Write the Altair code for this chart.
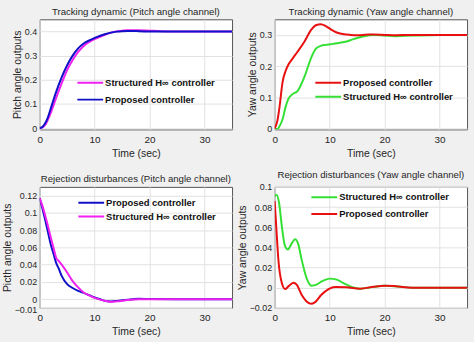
import altair as alt
import pandas as pd

# ---------------- data ----------------
S = "Structured H∞ controller"
P = "Proposed controller"

# Tracking dynamic, pitch
t_pt = [0, 0.5, 1, 1.5, 2, 3, 4, 5, 6, 7, 8, 9, 10, 11, 12, 13, 14, 15, 16, 17, 18, 20, 22, 25, 30, 35]
pt_proposed = [0, 0.005, 0.02, 0.045, 0.08, 0.15, 0.21, 0.26, 0.30, 0.33, 0.35, 0.363, 0.373, 0.382,
               0.389, 0.395, 0.399, 0.401, 0.402, 0.402, 0.401, 0.400, 0.400, 0.400, 0.400, 0.400]
pt_structured = [0, 0.003, 0.013, 0.035, 0.062, 0.125, 0.185, 0.24, 0.282, 0.315, 0.34, 0.356, 0.368, 0.378,
                 0.387, 0.395, 0.400, 0.403, 0.405, 0.405, 0.405, 0.403, 0.401, 0.400, 0.400, 0.400]

# Tracking dynamic, yaw
t_yt = [0, 0.5, 0.85, 1.45, 2, 2.5, 3.25, 4.15, 5.4, 6.6, 7.5, 8.4, 9.3, 10.2, 11.4, 12.6, 13.8,
        15, 17, 18, 20, 22, 25, 30, 35]
yt_proposed = [0, 0.025, 0.065, 0.15, 0.185, 0.205, 0.224, 0.246, 0.278, 0.315, 0.331, 0.334, 0.328,
               0.318, 0.307, 0.302, 0.300, 0.299, 0.301, 0.301, 0.300, 0.299, 0.300, 0.300, 0.300]
yt_structured = [0, -0.002, 0.006, 0.03, 0.07, 0.095, 0.11, 0.12, 0.165, 0.225, 0.256, 0.265, 0.268,
                 0.27, 0.273, 0.277, 0.283, 0.29, 0.298, 0.30, 0.298, 0.296, 0.298, 0.30, 0.30]

# Rejection disturbances, pitch
t_pr = [0, 0.5, 1, 1.5, 2, 2.5, 3, 3.5, 4, 5, 6, 7, 8, 9, 10, 11, 12, 13, 14, 16, 18, 20, 25, 30, 35]
pr_proposed = [0.117, 0.105, 0.092, 0.078, 0.064, 0.053, 0.042, 0.035, 0.027, 0.0175, 0.013, 0.0097,
               0.0074, 0.0047, 0.002, 0.0, -0.002, -0.0025, -0.002, -0.0005, 0.0005, 0.0003, 0, 0, 0]
pr_structured = [0.117, 0.108, 0.097, 0.085, 0.072, 0.060, 0.048, 0.044, 0.040, 0.031, 0.021, 0.0137,
                 0.0078, 0.0045, 0.0015, -0.0005, -0.002, -0.003, -0.0025, -0.001, 0, 0, 0, 0, 0]

# Rejection disturbances, yaw
t_yr_s = [0, 0.36, 0.8, 1.3, 1.9, 2.4, 3.1, 3.7, 4.3, 4.9, 5.8, 6.7, 7.6, 8.5, 10, 11.3, 12.5, 14,
          15.5, 17, 20, 23, 25, 30, 35]
yr_structured = [0.091, 0.092, 0.084, 0.061, 0.041, 0.038, 0.044, 0.048, 0.043, 0.028, 0.0096, 0.002,
                 0.003, 0.006, 0.009, 0.008, 0.0046, 0.0007, -0.001, 0.0, 0.002, 0.001, 0, 0, 0]
t_yr_p = [0, 0.36, 0.67, 1.3, 1.9, 2.5, 3.4, 4, 4.9, 5.8, 6.6, 7.3, 8.5, 9.8, 11, 13, 15.5, 18, 20,
          22, 25, 30, 35]
yr_proposed = [0.086, 0.054, 0.028, 0.0046, -0.0013, 0.0013, 0.005, 0.003, -0.007, -0.0136, -0.016,
               -0.0146, -0.007, -0.0013, 0.0007, 0.0005, -0.001, 0.001, 0.002, 0.0015, 0, 0, 0]


def frame(*series):
    rows = []
    for name, ts, vs in series:
        rows += [{"t": t, "v": v, "s": name} for t, v in zip(ts, vs)]
    return pd.DataFrame(rows)


def panel(df, title, ytitle, ydom, yticks, order, colors, legx, legy, rowh, w, h,
          ylab_offset=0):
    return alt.Chart(df, title=title).mark_line(
        strokeWidth=2, interpolate="monotone", clip=True
    ).encode(
        x=alt.X("t:Q", scale=alt.Scale(domain=[0, 35], nice=False),
                axis=alt.Axis(values=[0, 10, 20, 30], title="Time (sec)", labelFlush=False,
                              labelOverlap=False)),
        y=alt.Y("v:Q", scale=alt.Scale(domain=ydom, nice=False, zero=False),
                axis=alt.Axis(values=yticks, format="~g", title=ytitle, labelFlush=False,
                              labelOverlap=False, labelOffset=ylab_offset)),
        color=alt.Color("s:N", scale=alt.Scale(domain=order, range=colors),
                        legend=alt.Legend(orient="none", legendX=legx, legendY=legy, title=None,
                                          labelFontWeight="bold", labelFontSize=9.5,
                                          labelColor="#111111",
                                          symbolType="stroke", symbolStrokeWidth=2,
                                          symbolSize=676, clipHeight=rowh, rowPadding=0,
                                          labelOffset=1, padding=0)),
    ).properties(width=w, height=h)


p1 = panel(frame((S, t_pt, pt_structured), (P, t_pt, pt_proposed)),
           "Tracking dynamic (Pitch angle channel)", "Pitch angle outputs",
           [-0.005, 0.45], [0, 0.1, 0.2, 0.3, 0.4],
           [S, P], ["#f020f0", "#1010c8"], 37, 55.5, 17, 194, 111)
p2 = panel(frame((S, t_yt, yt_structured), (P, t_yt, yt_proposed)),
           "Tracking dynamic (Yaw angle channel)", "Yaw angle outputs",
           [-0.003, 0.35], [0, 0.1, 0.2, 0.3],
           [P, S], ["#e81010", "#33e033"], 40, 57, 14, 194, 111)
p3 = panel(frame((P, t_pr, pr_proposed), (S, t_pr, pr_structured)),
           "Rejection disturbances (Pitch angle channel)", "Picth angle outputs",
           [-0.01, 0.13], [-0.01, 0, 0.02, 0.04, 0.06, 0.08, 0.1, 0.12],
           [P, S], ["#1010c8", "#f020f0"], 38, 9.3, 13.3, 194, 122,
           ylab_offset=alt.ConditionalAxisNumber(
               condition={"test": "datum.value < 0", "value": 1.5}, value=0))
p4 = panel(frame((S, t_yr_s, yr_structured), (P, t_yr_p, yr_proposed)),
           "Rejection disturbances (Yaw angle channel)", "Yaw angle outputs",
           [-0.02, 0.1], [-0.02, 0, 0.02, 0.04, 0.06, 0.08, 0.1],
           [S, P], ["#33e033", "#e81010"], 36, 2, 16.7, 194, 122)

chart = alt.concat(p1, p2, p3, p4, columns=2, spacing={"row": 58, "column": 43},
                   bounds="flush").resolve_scale(color="independent").configure(
    background="#f0f0f0",
    padding={"left": 1, "top": 4, "right": 6, "bottom": 8},
    font="Liberation Sans",
).configure_view(
    stroke="#555555", fill="white"
).configure_axis(
    grid=True, gridColor="#e2e2e2", domain=False, ticks=False,
    labelFontSize=10, titleFontSize=10.5, titleFontWeight="normal",
    labelColor="#262626", titleColor="#262626",
).configure_axisX(
    labelPadding=5, titlePadding=4
).configure_axisY(
    labelPadding=3, titlePadding=2, labelFontSize=9
).configure_title(
    fontSize=9.7, fontWeight="normal", color="#262626", offset=3
)

chart.save("out.html", embed_options={"renderer": "svg", "actions": False})
